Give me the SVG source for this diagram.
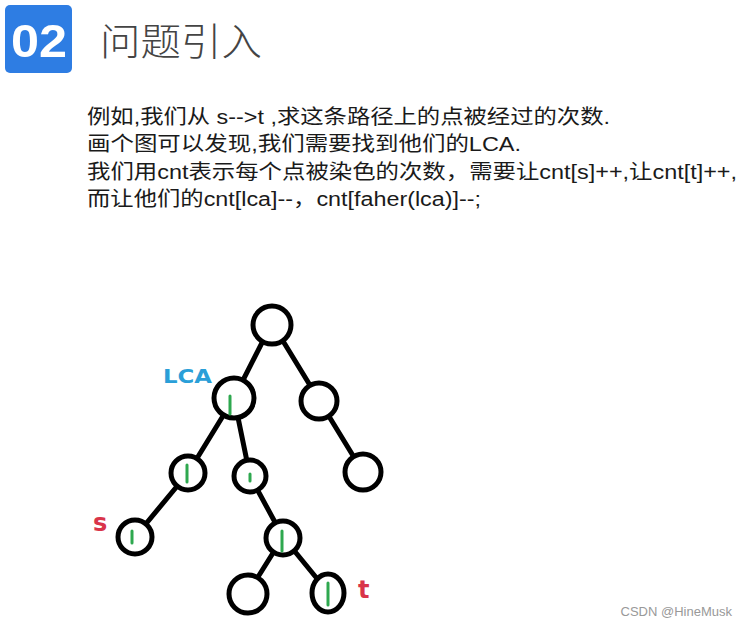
<svg xmlns="http://www.w3.org/2000/svg" width="746" height="625" viewBox="0 0 746 625">
<style>
.txt{font-family:"Liberation Sans","Noto Sans CJK SC",sans-serif;font-size:20px;fill:#1a1a1a}
.node circle,.node ellipse{fill:#fff;stroke:#000;stroke-width:5}
.mark{stroke:#2ea84f;stroke-width:3;stroke-linecap:round}
.edges line{stroke:#000;stroke-width:5;stroke-linecap:round}
.lbl{font-family:"DejaVu Sans","Liberation Sans",sans-serif;font-weight:bold;font-size:20px}
</style>
<rect width="746" height="625" fill="#fff"/>
<g id="header">
<rect x="5" y="5" width="67" height="68" rx="5" fill="#2e7de3"/>
<text x="39" y="57" text-anchor="middle" font-family="Liberation Sans,Arial,sans-serif" font-weight="bold" font-size="46" fill="#fff" textLength="56" lengthAdjust="spacingAndGlyphs">02</text>
<text x="100" y="55" font-family="Noto Sans CJK SC,sans-serif" font-weight="300" font-size="38" fill="#444" textLength="162" lengthAdjust="spacingAndGlyphs">问题引入</text>
</g>
<g id="body">
<text class="txt" x="87" y="124" textLength="523" lengthAdjust="spacingAndGlyphs">例如,我们从 s--&gt;t ,求这条路径上的点被经过的次数.</text>
<text class="txt" x="87" y="151" textLength="434" lengthAdjust="spacingAndGlyphs">画个图可以发现,我们需要找到他们的LCA.</text>
<text class="txt" x="87" y="179" textLength="650" lengthAdjust="spacingAndGlyphs">我们用cnt表示每个点被染色的次数，需要让cnt[s]++,让cnt[t]++,</text>
<text class="txt" x="87" y="206" textLength="394" lengthAdjust="spacingAndGlyphs">而让他们的cnt[lca]--，cnt[faher(lca)]--;</text>
</g>
<g id="connectors" class="edges">
<line x1="272" y1="323" x2="234" y2="398"/>
<line x1="272" y1="323" x2="319" y2="400"/>
<line x1="234" y1="398" x2="188" y2="473"/>
<line x1="234" y1="398" x2="250" y2="476"/>
<line x1="319" y1="400" x2="363" y2="472"/>
<line x1="188" y1="473" x2="135" y2="537"/>
<line x1="250" y1="476" x2="283" y2="537"/>
<line x1="283" y1="537" x2="248" y2="593"/>
<line x1="283" y1="537" x2="328" y2="592"/>
</g>
<g id="root" class="node"><circle cx="272" cy="325" r="19"/></g>
<g id="lca" class="node"><circle cx="234" cy="398" r="20"/><line class="mark" x1="230" y1="396" x2="230" y2="414"/></g>
<g id="right" class="node"><circle cx="319" cy="401" r="18"/></g>
<g id="rightright" class="node"><circle cx="363" cy="472" r="18"/></g>
<g id="left" class="node"><circle cx="188" cy="473" r="17"/><line class="mark" x1="187" y1="465" x2="187" y2="482"/></g>
<g id="middle" class="node"><circle cx="250" cy="476" r="16"/><line class="mark" x1="250" y1="474" x2="250" y2="481"/></g>
<g id="s" class="node"><circle cx="135" cy="537" r="17"/><line class="mark" x1="132" y1="531" x2="132" y2="543"/></g>
<g id="mid2" class="node"><circle cx="283" cy="538" r="17"/><line class="mark" x1="282" y1="531" x2="282" y2="551"/></g>
<g id="bl" class="node"><circle cx="248" cy="594" r="19"/></g>
<g id="t" class="node"><ellipse cx="328" cy="593" rx="16" ry="19"/><line class="mark" x1="328" y1="583" x2="328" y2="605"/></g>
<g id="labels">
<text class="lbl" x="163" y="383" fill="#2a9fd8" font-size="22" textLength="49" lengthAdjust="spacingAndGlyphs">LCA</text>
<text class="lbl" x="93" y="531" fill="#d9344a" font-size="24" style="font-size:24px">s</text>
<text class="lbl" x="358" y="598" fill="#d9344a" style="font-size:24px">t</text>
</g>
<text x="732" y="616" text-anchor="end" font-family="Liberation Sans,Arial,sans-serif" font-size="13" fill="#999">CSDN @HineMusk</text>
</svg>
